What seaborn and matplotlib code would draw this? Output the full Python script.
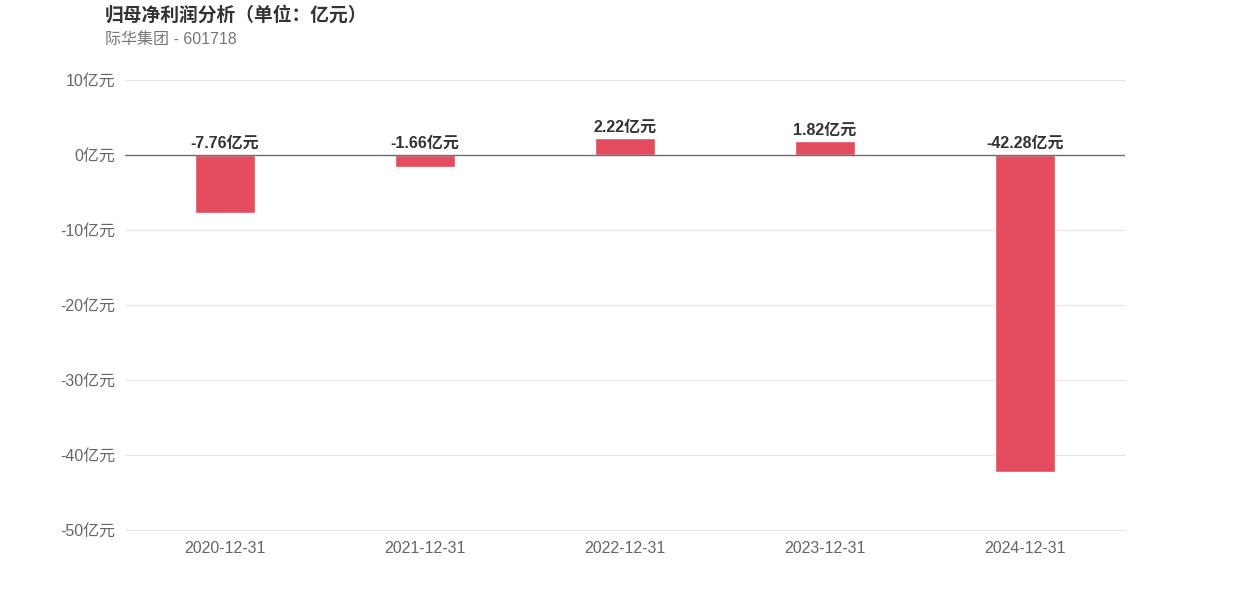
import matplotlib

matplotlib.use("Agg")
import matplotlib.pyplot as plt
import pandas as pd
import seaborn as sns

dates = ["2020-12-31", "2021-12-31", "2022-12-31", "2023-12-31", "2024-12-31"]
profit = [-7.76, -1.66, 2.22, 1.82, -42.28]
y_ticks = [-50, -40, -30, -20, -10, 0, 10]

title = "归母净利润分析（单位：亿元）"
subtitle = "际华集团 - 601718"

sns.set_theme(style="white")
plt.rcParams["font.family"] = ["Liberation Sans", "Noto Sans CJK SC", "DejaVu Sans"]

frame = pd.DataFrame({"date": dates, "profit": profit})

fig = plt.figure(figsize=(12.5, 6), dpi=100)
ax = fig.add_axes([0.1, 0.1167, 0.8, 0.75])

sns.barplot(data=frame, x="date", y="profit", color="#E34B5E", saturation=1,
            width=0.3, ax=ax, zorder=3)

ax.set_ylim(-50, 10)
ax.set_xlim(-0.5, len(dates) - 0.5)
ax.set_yticks(y_ticks)
ax.set_yticklabels([f"{t}亿元" for t in y_ticks])
for t in y_ticks:
    if t != 0:
        ax.axhline(t, color="#e6e6e6", linewidth=0.8, zorder=1, clip_on=False)
ax.axhline(0, color="#6e6e6e", linewidth=1, zorder=4)

for i, v in enumerate(profit):
    ax.text(i, max(v, 0) + 0.5, f"{v:.2f}亿元", ha="center", va="bottom",
            fontsize=11.5, fontweight="bold", color="#333333")

ax.tick_params(axis="x", length=0, labelsize=11.5, labelcolor="#666666", pad=8)
ax.tick_params(axis="y", length=0, labelsize=11.5, labelcolor="#666666", pad=7)
ax.set_xlabel("")
ax.set_ylabel("")
sns.despine(ax=ax, left=True, bottom=True)

fig.text(0.084, 0.99, title, fontsize=13.5, fontweight="bold", color="#333333",
         va="top", ha="left")
fig.text(0.084, 0.947, subtitle, fontsize=11.5, color="#777777", va="top", ha="left")

fig.savefig("out.png", dpi=100)
